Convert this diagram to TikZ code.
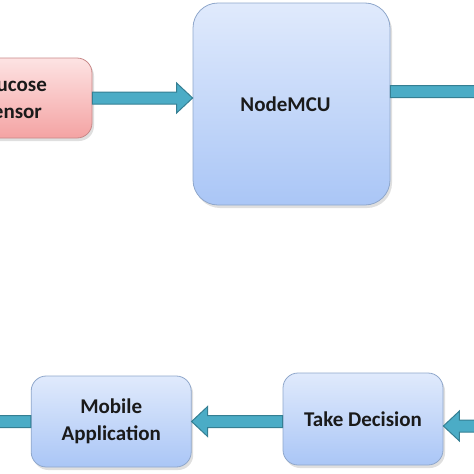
\documentclass[tikz,border=0pt]{standalone}
\usepackage{fontspec}
\setmainfont{Carlito}
\usepackage{xcolor}
\usetikzlibrary{positioning, calc, shadows}
\definecolor{bluetop}{HTML}{E0EAFC}
\definecolor{bluebottom}{HTML}{AAC6F6}
\definecolor{blueedge}{HTML}{8FA7CB}
\definecolor{redtop}{HTML}{FDE3E3}
\definecolor{redbottom}{HTML}{F4A3A3}
\definecolor{rededge}{HTML}{C88888}
\definecolor{arrowfill}{HTML}{4BACC6}
\definecolor{arrowedge}{HTML}{357F93}
\definecolor{textdark}{HTML}{1A1A1A}

\begin{document}
\begin{tikzpicture}[x=1pt, y=-1pt, node distance=0.3cm]
    % Define styles
    \tikzstyle{block_blue} = [draw=blueedge, thick, rectangle, rounded corners=15pt, top color=bluetop, bottom color=bluebottom, minimum width=160pt, minimum height=91pt, text=textdark, align=center, font=\bfseries\fontsize{21}{27}\selectfont, drop shadow={shadow xshift=2pt, shadow yshift=-3pt, opacity=0.25}]
    \tikzstyle{block_red} = [block_blue, draw=rededge, top color=redtop, bottom color=redbottom]
    \tikzstyle{block_arrow} = [draw=arrowedge, fill=arrowfill, line width=1pt, line join=miter,
        to path={let \p1=(\tikztostart), \p2=(\tikztotarget), \n1={sign(\x2-\x1)} in
            (\x1,\y1+6pt) -- ({\x2-\n1*16pt},\y1+6pt) -- ({\x2-\n1*16pt},\y1+15pt) -- (\x2,\y1)
            -- ({\x2-\n1*16pt},\y1-15pt) -- ({\x2-\n1*16pt},\y1-6pt) -- (\x1,\y1-6pt) -- cycle}]

    \useasboundingbox (0,0) rectangle (474,474);
    \clip (0,0) rectangle (474,474);

    % TOP ROW
    \node (mcu_box) [block_blue, rounded corners=25pt, minimum width=197pt, minimum height=202pt] at (291.5,104) {NodeMCU\hspace*{12pt}};
    \node (sensor_box) [block_red, minimum width=159pt, minimum height=80pt] at (12.5,98) {Glucose\\Sensor};

    % BOTTOM ROW
    \node (decision_box) [block_blue, minimum height=92pt] at (363,419) {Take Decision};
    \node (mobile_box) [block_blue, left=91pt of decision_box, yshift=-2.5pt] {Mobile\\Application};

    % free ends outside the frame
    \coordinate (cloud_out) at (530,91.5);
    \coordinate (cloud_in) at (520,426);
    \coordinate (phone_out) at (-40,422);

    % CONNECTIONS
    \draw[block_arrow] (sensor_box.east) to (sensor_box.east -| mcu_box.west);
    \draw[block_arrow] (mcu_box.east |- cloud_out) to (cloud_out);
    \draw[block_arrow] (cloud_in) to (cloud_in -| decision_box.east);
    \draw[block_arrow] (decision_box.west |- mobile_box.east) to (mobile_box.east);
    \draw[block_arrow] (mobile_box.west) to (mobile_box.west -| phone_out);

\end{tikzpicture}
\end{document}
